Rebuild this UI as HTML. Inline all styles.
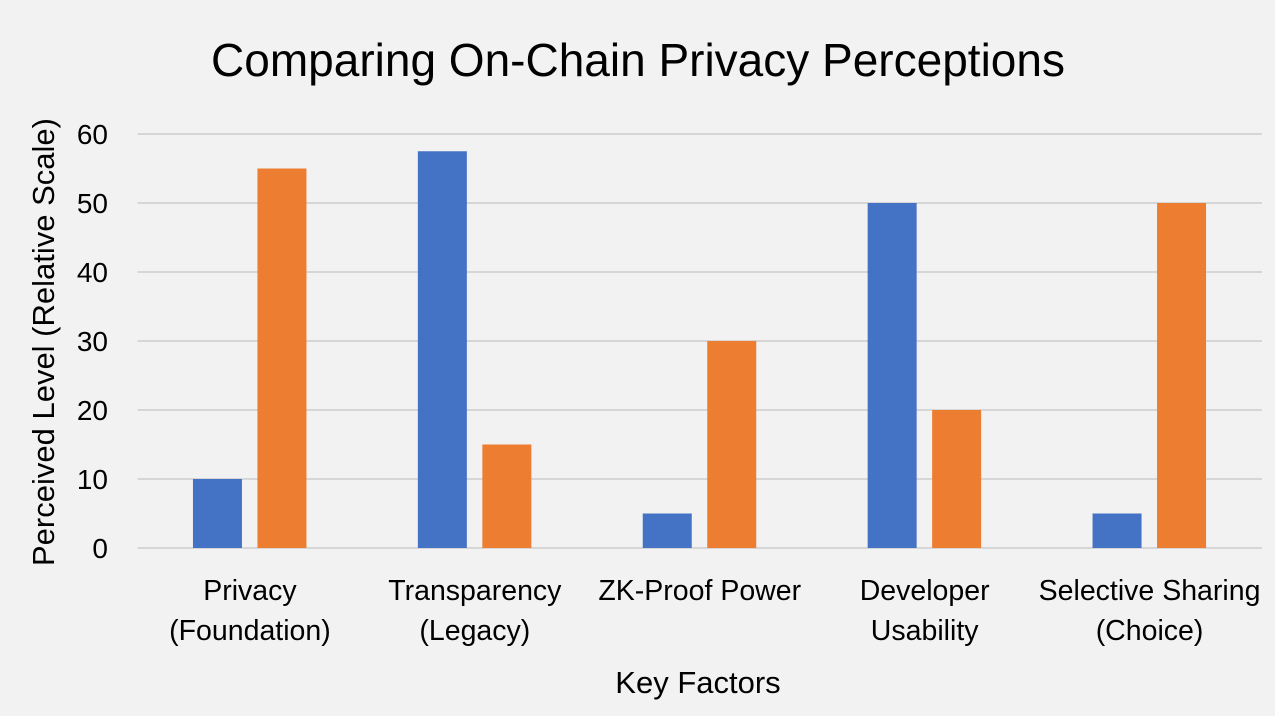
<!DOCTYPE html>
<html><head><meta charset="utf-8">
<style>
html,body{margin:0;padding:0;background:#f2f2f2;}
svg{display:block;font-family:"Liberation Sans",Arial,sans-serif;}
</style></head>
<body>
<svg id="chart" width="1275" height="716" viewBox="0 0 1275 716">
<rect x="0" y="0" width="1275" height="716" fill="#f2f2f2"/>
<text x="638" y="76" text-anchor="middle" font-size="46" fill="#000">Comparing On-Chain Privacy Perceptions</text>
<g id="grid"></g>
<g id="bars"></g>
<g id="xlabels"></g>
<text x="698" y="693" text-anchor="middle" font-size="31" fill="#000">Key Factors</text>
<text transform="translate(54,342) rotate(-90)" text-anchor="middle" font-size="31" fill="#000">Perceived Level (Relative Scale)</text>
</svg>
<script>
const categories = [["Privacy","(Foundation)"],["Transparency","(Legacy)"],["ZK-Proof Power"],["Developer","Usability"],["Selective Sharing","(Choice)"]];
const seriesA = [10, 57.5, 5, 50, 5];
const seriesB = [55, 15, 30, 20, 50];
const yTicks = [0, 10, 20, 30, 40, 50, 60];

const NS = "http://www.w3.org/2000/svg";
const plotL = 137.5, plotR = 1262, y0 = 548, y60 = 134, yMax = 60;
const catW = (plotR - plotL) / categories.length;
function yScale(v){ return y0 - (v / yMax) * (y0 - y60); }
function xCenter(i){ return plotL + catW * (i + 0.5); }
function mk(tag, attrs){ const e = document.createElementNS(NS, tag); for (const k in attrs) e.setAttribute(k, attrs[k]); return e; }

const grid = document.getElementById('grid');
yTicks.forEach(t => {
  const y = yScale(t);
  const line = mk('line', {x1: plotL, x2: plotR, y1: y, y2: y, stroke: '#d6d6d6', 'stroke-width': 2});
  
  
  grid.appendChild(line);
  const lab = mk('text', {x: 108, y: y + 10, 'text-anchor': 'end', 'font-size': 28, fill: '#000'});
  lab.textContent = t;
  
  
  grid.appendChild(lab);
});

const bars = document.getElementById('bars');
const bw = 49;
categories.forEach((c, i) => {
  const cx = xCenter(i);
  const a = mk('rect', {x: cx - 57, y: yScale(seriesA[i]), width: bw, height: y0 - yScale(seriesA[i]), fill: '#4472c4'});
  
  
  bars.appendChild(a);
  const b = mk('rect', {x: cx + 7.5, y: yScale(seriesB[i]), width: bw, height: y0 - yScale(seriesB[i]), fill: '#ed7d31'});
  
  
  bars.appendChild(b);
});

const xl = document.getElementById('xlabels');
categories.forEach((c, i) => {
  const t = mk('text', {x: xCenter(i), y: 600, 'text-anchor': 'middle', 'font-size': 28.5, fill: '#000'});
  
  
  c.forEach((line, j) => {
    const s = mk('tspan', {x: xCenter(i), dy: j === 0 ? 0 : 40});
    s.textContent = line;
    t.appendChild(s);
  });
  xl.appendChild(t);
});
</script>
</body></html>
